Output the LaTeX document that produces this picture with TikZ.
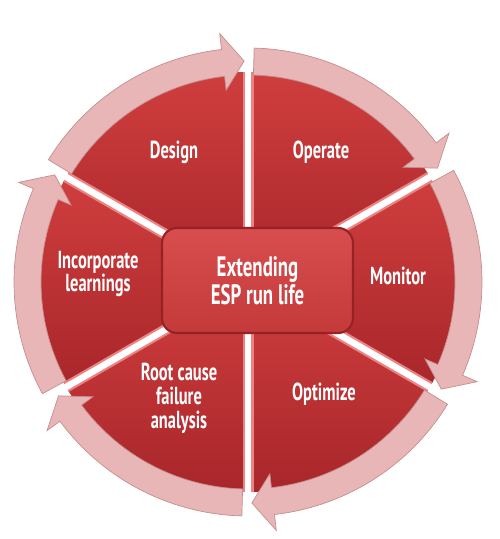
\documentclass[tikz,border=0pt]{standalone}
\usepackage[usenames,dvipsnames,svgnames,table]{xcolor}
\usepackage{fontspec}
\setmainfont{PT Sans}[FakeStretch=0.67]
\usepackage{tikz}
\definecolor{secup}{RGB}{208,62,62}
\definecolor{secdown}{RGB}{168,38,42}
\definecolor{ringfill}{RGB}{232,182,182}
\definecolor{ringedge}{RGB}{196,142,142}
\definecolor{boxup}{RGB}{216,78,78}
\definecolor{boxdown}{RGB}{196,58,58}
\definecolor{boxedge}{RGB}{150,34,36}
\definecolor{gapedge}{RGB}{236,130,130}
\tikzset{
	ring/.style={fill=ringfill, draw=ringedge, line width=0.4pt},
	phasetext/.style={text=white, align=center, font=\bfseries\fontsize{14}{13.6}\selectfont},
	corebox/.style={rounded corners=0.3cm, minimum width=3.82cm, minimum height=2.1cm, top color=boxup, bottom color=boxdown, draw=boxedge, line width=1.2pt, text=white, align=center, font=\bfseries\fontsize{16}{14.4}\selectfont}
}
\newcommand{\redsector}[2] % {start angle}{end angle}
{
	\shade [top color=secup, bottom color=secdown] (0,0) -- (#1:4.2) arc [start angle=#1, end angle=#2, radius=4.2] -- cycle;
}
\newcommand{\ringarrow}[2] % {tail angle}{tip angle}, clockwise
{
	\draw [ring] (#1:4.68) arc [start angle=#1, end angle=#2+5.5, radius=4.68] -- (#2+5.5:5.0) -- (#2:4.42) -- (#2+5.5:3.86) -- (#2+5.5:4.14) arc [start angle=#2+5.5, end angle=#1, radius=4.14] -- cycle;
}
\begin{document}
\begin{tikzpicture}
	\useasboundingbox (-4.96,-5.14) rectangle (5.04,5.64);
	
	\redsector{90}{150}
	\redsector{30}{90}
	\redsector{-30}{30}
	\redsector{-90}{-30}
	\redsector{-150}{-90}
	\redsector{150}{210}
	
	%gaps between the sectors
	\foreach \g in {90,30,-30,-90,-150,150}
	{
		\draw [gapedge, line width=0.22cm] (0,0) -- (\g:4.2);
		\draw [white, line width=0.13cm] (0,0) -- (\g:4.5);
	}
	
	\node (core) [corebox] at (0.19,0.03) {Extending\\ESP run life};
	
	\ringarrow{148.5}{91}
	\ringarrow{88.5}{31}
	\ringarrow{28.5}{-29}
	\ringarrow{-31.5}{-89}
	\ringarrow{-91.5}{-149}
	\ringarrow{208.5}{151}
	
	\node (design) [phasetext] at (-1.48,2.6) {Design};
	\node (operate) [phasetext] at (1.46,2.6) {Operate};
	\node (monitor) [phasetext] at (3.0,0.12) {Monitor};
	\node (optimize) [phasetext] at (1.52,-2.24) {Optimize};
	\node (rootcause) [phasetext] at (-1.38,-2.32) {Root cause\\failure\\analysis};
	\node (incorporate) [phasetext] at (-3.0,0.16) {Incorporate\\learnings};
	
\end{tikzpicture}
\end{document}
